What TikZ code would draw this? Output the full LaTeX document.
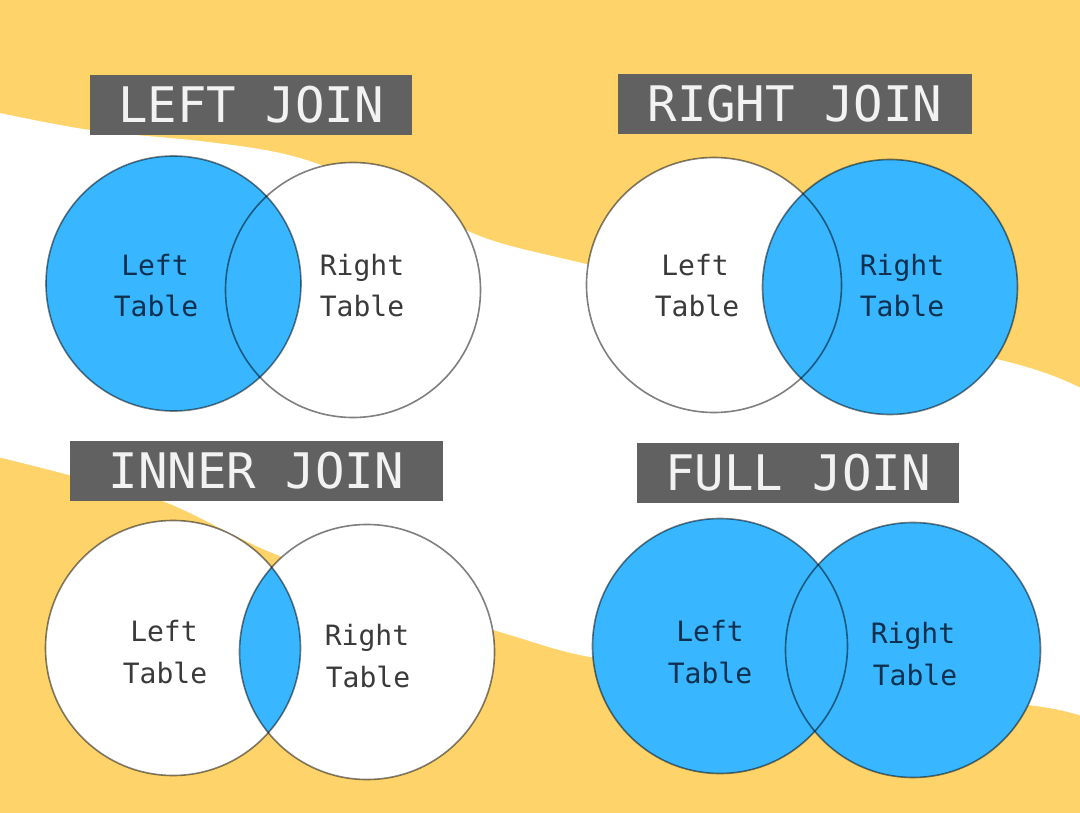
\documentclass[tikz,border=0pt]{standalone}
\usepackage{fontspec}
\newfontfamily\monofam{DejaVu Sans Mono}
\definecolor{bgyellow}{RGB}{253,211,106}
\definecolor{venblue}{RGB}{56,182,255}
\definecolor{titlegray}{RGB}{97,97,97}
\definecolor{titletext}{RGB}{242,242,242}
\definecolor{navytext}{RGB}{14,48,78}
\definecolor{graytext}{RGB}{58,58,58}
\begin{document}
\begin{tikzpicture}[x=1pt,y=-1pt,
  titlebox/.style={fill=titlegray, text=titletext, font=\monofam\fontsize{49}{49}\selectfont,
    text height=35pt, text depth=0pt, inner ysep=12.5pt, inner xsep=0pt, anchor=center},
  ring/.style={draw=black, draw opacity=0.5, line width=1.6pt},
  lblblue/.style={font=\monofam\fontsize{28}{28}\selectfont, text=navytext, anchor=base, inner sep=0pt},
  lblwhite/.style={lblblue, text=graytext},
  rad/.style={radius=127.5pt}
]
\useasboundingbox (0,0) rectangle (1080,813);
% background
\fill[bgyellow] (-5,-5) rectangle (1085,818);
\fill[white] plot[smooth, tension=0.6] coordinates {(-10,111) (90,130) (200,141) (280,153) (340,172) (420,205) (485,238) (590,265) (800,315) (1016,364) (1090,393)}
  -- plot[smooth, tension=0.55] coordinates {(1090,719) (1036,706) (860,689) (720,674) (590,657) (510,635) (400,600) (270,552) (165,502) (69,475) (-10,455)} -- cycle;

% centres
\coordinate (ljL) at (173.5,283.5);
\coordinate (ljR) at (353,290);
\coordinate (rjL) at (714,285);
\coordinate (rjR) at (890,287);
\coordinate (ijL) at (173,648);
\coordinate (ijR) at (367,652);
\coordinate (fjL) at (720,646);
\coordinate (fjR) at (913,650);

% LEFT JOIN
\fill[white] (ljR) circle[rad];
\fill[venblue] (ljL) circle[rad];
\draw[ring] (ljL) circle[rad];
\draw[ring] (ljR) circle[rad];
% RIGHT JOIN
\fill[white] (rjL) circle[rad];
\fill[venblue] (rjR) circle[rad];
\draw[ring] (rjL) circle[rad];
\draw[ring] (rjR) circle[rad];
% INNER JOIN
\fill[white] (ijL) circle[rad];
\fill[white] (ijR) circle[rad];
\begin{scope}
  \clip (ijL) circle[rad];
  \fill[venblue] (ijR) circle[rad];
\end{scope}
\draw[ring] (ijL) circle[rad];
\draw[ring] (ijR) circle[rad];
% FULL JOIN
\fill[venblue] (fjL) circle[rad];
\fill[venblue] (fjR) circle[rad];
\draw[ring] (fjL) circle[rad];
\draw[ring] (fjR) circle[rad];

% titles
\node[titlebox, minimum width=322pt] (tLJ) at (251,105) {LEFT JOIN};
\node[titlebox, minimum width=354pt] (tRJ) at (795,104) {RIGHT JOIN};
\node[titlebox, minimum width=373pt] (tIJ) at (256.5,471) {INNER JOIN};
\node[titlebox, minimum width=322pt] (tFJ) at (798,472.5) {FULL JOIN};

% labels
\node[lblblue] (ljL1) at (155,276) {Left};
\node[lblblue] (ljL2) at (156,317) {Table};
\node[lblwhite] (ljR1) at (362,276) {Right};
\node[lblwhite] (ljR2) at (362,317) {Table};

\node[lblwhite] (rjL1) at (695,276) {Left};
\node[lblwhite] (rjL2) at (697,317) {Table};
\node[lblblue] (rjR1) at (902,276) {Right};
\node[lblblue] (rjR2) at (902,317) {Table};

\node[lblwhite] (ijL1) at (164,641) {Left};
\node[lblwhite] (ijL2) at (165,683) {Table};
\node[lblwhite] (ijR1) at (367,645) {Right};
\node[lblwhite] (ijR2) at (368,687) {Table};

\node[lblblue] (fjL1) at (710,641) {Left};
\node[lblblue] (fjL2) at (710,683) {Table};
\node[lblblue] (fjR1) at (913,643) {Right};
\node[lblblue] (fjR2) at (915,685) {Table};
\end{tikzpicture}
\end{document}
